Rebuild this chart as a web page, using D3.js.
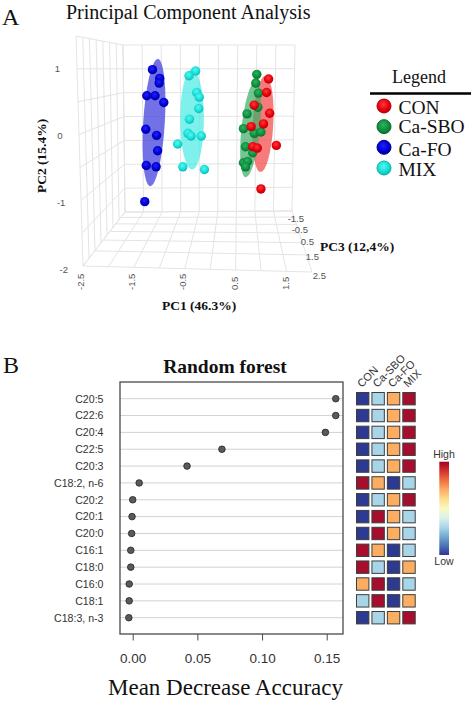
<!DOCTYPE html>
<html>
<head>
<meta charset="utf-8">
<script src="https://cdn.jsdelivr.net/npm/d3@7"></script>
<style>
  html, body { margin: 0; padding: 0; background: #fff; overflow: hidden; }
  svg { display: block; }
  .serif { font-family: "Liberation Serif", serif; fill: #111; }
  .sans { font-family: "Liberation Sans", sans-serif; }
</style>
</head>
<body>
<div id="chart"></div>
<script>
// ---- panel A data ----
const groups = ["CON", "Ca-SBO", "Ca-FO", "MIX"]
const pc1Con = [1.17, 1.13, 0.89, 1.19, 1.07, 0.83, 1.32, 0.86, 0.95, 1.02]
const pc2Con = [0.85, 0.65, 0.46, 0.34, 0.18, 0.14, -0.14, -0.16, -0.18, -0.79]
const pc1Sbo = [0.94, 0.92, 0.97, 0.96, 0.75, 0.68, 0.89, 1.02, 0.72, 0.86, 0.68, 0.76, 0.72]
const pc2Sbo = [0.92, 0.79, 0.64, 0.43, 0.33, 0.11, 0.04, 0.06, -0.16, -0.25, -0.40, -0.38, -0.46]
const pc1Fo = [-1.09, -0.95, -0.96, -1.20, -1.04, -0.87, -1.22, -1.01, -0.99, -1.21, -1.02, -1.24]
const pc2Fo = [0.99, 0.86, 0.79, 0.60, 0.60, 0.50, 0.10, 0.01, -0.22, -0.44, -0.46, -0.98]
const pc1Mix = [-0.25, -0.38, -0.23, -0.18, -0.19, -0.37, -0.40, -0.34, -0.14, -0.60, -0.50, -0.08]
const pc2Mix = [0.97, 0.90, 0.65, 0.58, 0.41, 0.25, 0.04, 0.00, 0.00, -0.12, -0.46, -0.50]

// confidence ellipses, same order as groups
const ellPc1 = [1.06, 0.82, -1.06, -0.32]
const ellPc2 = [0.18, 0.10, 0.20, 0.25]
const ellR1 = [0.20, 0.18, 0.21, 0.23]
const ellR2 = [0.72, 0.72, 0.95, 0.75]
const ellTilt = [3, 6, 3.5, 0]

const pc1Ticks = [-2.5, -1.5, -0.5, 0.5, 1.5]
const pc2Ticks = [1, 0, -1, -2]
const pc3Ticks = [-1.5, -0.5, 0.5, 1.5, 2.5]

// ---- panel B data ----
const fattyAcids = ["C20:5", "C22:6", "C20:4", "C22:5", "C20:3", "C18:2, n-6", "C20:2", "C20:1", "C20:0", "C16:1", "C18:0", "C16:0", "C18:1", "C18:3, n-3"]
const meanDecrease = [0.157, 0.157, 0.149, 0.069, 0.042, 0.005, 0, -0.0005, -0.0008, -0.0015, -0.0015, -0.0027, -0.0027, -0.003]
const accTicks = [0, 0.05, 0.10, 0.15]
// rank of each group per fatty acid, 1 low .. 4 high
const rankCon = [1, 1, 1, 1, 1, 3, 1, 1, 1, 3, 3, 4, 2, 1]
const rankSbo = [2, 2, 2, 2, 2, 4, 2, 3, 3, 4, 2, 3, 3, 2]
const rankFo = [4, 4, 4, 4, 4, 1, 4, 4, 4, 1, 1, 1, 1, 4]
const rankMix = [3, 3, 3, 3, 3, 2, 3, 2, 2, 2, 4, 2, 4, 3]

const svg = d3.select("#chart").append("svg")
  .attr("width", 474)
  .attr("height", 705)

const defs = svg.append("defs")

function label(text, x, y, size, cls, weight) {
  return svg.append("text")
    .attr("class", cls || "serif")
    .attr("x", x)
    .attr("y", y)
    .attr("font-size", size)
    .attr("font-weight", weight || "normal")
    .text(text)
}

// ---- A: the 3d box, each face is a bilinear map of its four corners ----
const x3 = d3.scaleLinear().domain([-2.5, 2.5]).range([80, 337])
const y3 = d3.scaleLinear().domain([1, -2]).range([69, 270])

function face(tl, tr, br, bl) {
  return (u, v) => {
    const topX = tl[0] + (tr[0] - tl[0]) * u, topY = tl[1] + (tr[1] - tl[1]) * u
    const botX = bl[0] + (br[0] - bl[0]) * u, botY = bl[1] + (br[1] - bl[1]) * u
    return [topX + (botX - topX) * v, topY + (botY - topY) * v]
  }
}

const backWall = face([123, 45], [295, 45], [292, 211], [125, 212])
const leftWall = face([76, 36], [123, 45], [125, 212], [83, 266])
const floor3 = face([125, 212], [292, 211], [312, 272], [83, 266])

const gridG = svg.append("g")
  .attr("fill", "none")
  .attr("stroke", "#e4e4e6")
  .attr("stroke-width", 1)

function gridLine(f, u0, v0, u1, v1) {
  gridG.append("line")
    .attr("x1", f(u0, v0)[0]).attr("y1", f(u0, v0)[1])
    .attr("x2", f(u1, v1)[0]).attr("y2", f(u1, v1)[1])
}

d3.range(0, 10).forEach(i => gridLine(backWall, i / 9, 0, i / 9, 1))
d3.range(0, 8).forEach(i => gridLine(backWall, 0, i / 7, 1, i / 7))
d3.range(0, 8).forEach(i => gridLine(leftWall, 0, i / 7, 1, i / 7))
d3.range(0, 8).forEach(i => gridLine(leftWall, i / 7, 0, i / 7, 1))
d3.range(0, 10).forEach(i => gridLine(floor3, i / 9, 0, i / 9, 1))
// floor lines bunch up towards the back wall
const floorRows = [0, 0.1, 0.22, 0.36, 0.52, 0.72, 1]
floorRows.forEach(v => gridLine(floor3, 0, v, 1, v))

// ellipses
const ellColor = ["#f24a4a", "#3fae68", "#3c3cdc", "#4cebe4"]
const ellOpacity = [0.72, 0.72, 0.72, 0.72]
groups.forEach((g, i) => {
  svg.append("ellipse")
    .attr("cx", x3(ellPc1[i]))
    .attr("cy", y3(ellPc2[i]))
    .attr("rx", x3(ellR1[i]) - x3(0))
    .attr("ry", y3(0) - y3(ellR2[i]))
    .attr("transform", `rotate(${ellTilt[i]} ${x3(ellPc1[i])} ${y3(ellPc2[i])})`)
    .attr("fill", ellColor[i])
    .attr("fill-opacity", ellOpacity[i])
})

// sphere shading for the points
const sphereColor = ["#e8000c", "#0e8f3e", "#0000d2", "#14e0d8"]
const sphereDark = ["#b00008", "#086b2c", "#00009c", "#0fb0aa"]
const sphereLight = ["#ff3a3a", "#2cb560", "#2222ff", "#5cf5ee"]
groups.forEach((g, i) => {
  const grad = defs.append("radialGradient")
    .attr("id", "sphere" + i)
    .attr("cx", "45%").attr("cy", "38%").attr("r", "65%")
  grad.append("stop").attr("offset", "0%").attr("stop-color", sphereLight[i])
  grad.append("stop").attr("offset", "60%").attr("stop-color", sphereColor[i])
  grad.append("stop").attr("offset", "100%").attr("stop-color", sphereDark[i])
})

function drawPoints(xs, ys, groupIdx) {
  svg.append("g").selectAll("circle")
    .data(xs)
    .join("circle")
    .attr("cx", d => x3(d))
    .attr("cy", (d, i) => y3(ys[i]))
    .attr("r", 4.7)
    .attr("fill", `url(#sphere${groupIdx})`)
}

drawPoints(pc1Mix, pc2Mix, 3)
drawPoints(pc1Fo, pc2Fo, 2)
drawPoints(pc1Sbo, pc2Sbo, 1)
drawPoints(pc1Con, pc2Con, 0)

// tick labels of the box
const tickColor = "#555"
pc1Ticks.forEach(t => {
  svg.append("text")
    .attr("class", "sans")
    .attr("transform", `translate(${x3(t) + 3.5},${290}) rotate(-90)`)
    .attr("font-size", 9.5)
    .attr("fill", tickColor)
    .text(t.toFixed(1))
})
const pc2LabelX = d3.scaleLinear().domain([1, -2]).range([60, 68])
pc2Ticks.forEach(t => {
  svg.append("text")
    .attr("class", "sans")
    .attr("x", pc2LabelX(t))
    .attr("y", y3(t) + 3)
    .attr("text-anchor", "end")
    .attr("font-size", 9.5)
    .attr("fill", tickColor)
    .text(t)
})
// depth ticks step away from the viewer along the right floor edge
const zX = d3.scaleLinear().domain(pc3Ticks).range([304, 308, 314, 319, 326])
const zY = d3.scaleLinear().domain(pc3Ticks).range([222, 233, 245, 260, 279])
pc3Ticks.forEach(t => {
  svg.append("text")
    .attr("class", "sans")
    .attr("x", zX(t))
    .attr("y", zY(t))
    .attr("text-anchor", "end")
    .attr("font-size", 9.5)
    .attr("fill", tickColor)
    .text(t.toFixed(1))
})

// A titles
label("A", 2, 25, 24)
label("Principal Component Analysis", 66, 19, 20)
label("PC1 (46.3%)", 162, 310, 13.5, "serif", "bold")
label("PC3 (12,4%)", 320, 251, 13.5, "serif", "bold")
svg.append("text")
  .attr("class", "serif")
  .attr("transform", "translate(46,193) rotate(-90)")
  .attr("font-size", 13.5)
  .attr("font-weight", "bold")
  .text("PC2 (15.4%)")

// legend
label("Legend", 392, 83, 18)
svg.append("line")
  .attr("x1", 370).attr("x2", 471)
  .attr("y1", 93.5).attr("y2", 93.5)
  .attr("stroke", "#000")
  .attr("stroke-width", 2.6)
const legendY = d3.scalePoint().domain(groups).range([106, 168])
const legendTextY = [114, 133, 156, 176]
groups.forEach((g, i) => {
  svg.append("circle")
    .attr("cx", 384)
    .attr("cy", legendY(g))
    .attr("r", 7)
    .attr("fill", `url(#sphere${i})`)
    .attr("stroke", sphereDark[i])
    .attr("stroke-width", 1)
  label(g, 398.5, legendTextY[i], 19.5)
})

// ---- B: dot plot ----
const PANEL = { LEFT: 120, RIGHT: 343, TOP: 382, BOTTOM: 634 }
const x = d3.scaleLinear().domain([0, 0.15]).range([132.7, 326.7])
const y = d3.scalePoint().domain(fattyAcids).range([398.7, 617.7])

label("B", 3, 373, 24)
label("Random forest", 225, 373, 19.5, "serif", "bold").attr("text-anchor", "middle")

svg.append("g").selectAll("line")
  .data(fattyAcids)
  .join("line")
  .attr("x1", PANEL.LEFT)
  .attr("x2", PANEL.RIGHT)
  .attr("y1", d => y(d))
  .attr("y2", d => y(d))
  .attr("stroke", "#d2d2d2")
  .attr("stroke-width", 1)

svg.append("rect")
  .attr("x", PANEL.LEFT)
  .attr("y", PANEL.TOP)
  .attr("width", PANEL.RIGHT - PANEL.LEFT)
  .attr("height", PANEL.BOTTOM - PANEL.TOP)
  .attr("fill", "none")
  .attr("stroke", "#4a4a4a")
  .attr("stroke-width", 1.3)

svg.append("g").selectAll("circle")
  .data(fattyAcids)
  .join("circle")
  .attr("cx", (d, i) => x(meanDecrease[i]))
  .attr("cy", d => y(d))
  .attr("r", 3.3)
  .attr("fill", "#5a5a5a")
  .attr("stroke", "#222")
  .attr("stroke-width", 0.8)

svg.append("g").selectAll("text")
  .data(fattyAcids)
  .join("text")
  .attr("class", "sans")
  .attr("x", 103.5)
  .attr("y", d => y(d) + 3.8)
  .attr("text-anchor", "end")
  .attr("font-size", 10.6)
  .attr("fill", "#333")
  .text(d => d)

const xAxis = d3.axisBottom(x)
  .tickValues(accTicks)
  .tickFormat(d3.format(".2f"))
  .tickSize(6.5)
  .tickPadding(13)
svg.append("g")
  .attr("transform", `translate(0,${PANEL.BOTTOM})`)
  .call(xAxis)
  .call(g => g.select(".domain").remove())
  .call(g => g.selectAll("line").attr("stroke", "#4a4a4a"))
  .call(g => g.selectAll("text")
    .attr("class", "sans")
    .attr("font-size", 13.5)
    .attr("fill", "#333"))

label("Mean Decrease Accuracy", 108, 695, 23)

// ---- B: heat map ----
const rankColor = d3.scaleOrdinal().domain([1, 2, 3, 4]).range(["#2c3a92", "#a8d6e8", "#a50f2d", "#fbae62"])
const cols = d3.scalePoint().domain(groups).range([362.7, 409])
const ranks = [rankCon, rankSbo, rankFo, rankMix]

groups.forEach((g, c) => {
  svg.append("g").selectAll("rect")
    .data(fattyAcids)
    .join("rect")
    .attr("x", cols(g) - 6.2)
    .attr("y", d => y(d) - 6.2)
    .attr("width", 12.4)
    .attr("height", 12.4)
    .attr("fill", (d, i) => rankColor(ranks[c][i]))
    .attr("stroke", "#3d3d3d")
    .attr("stroke-width", 1)
  svg.append("text")
    .attr("class", "sans")
    .attr("transform", `translate(${cols(g) - 1},${388}) rotate(-45)`)
    .attr("font-size", 11)
    .attr("fill", "#333")
    .text(g)
})

// colour key
const keyGrad = defs.append("linearGradient")
  .attr("id", "keyGrad")
  .attr("x1", 0).attr("y1", 1).attr("x2", 0).attr("y2", 0)
d3.range(0, 11).forEach(i => {
  keyGrad.append("stop")
    .attr("offset", (i * 10) + "%")
    .attr("stop-color", d3.interpolateRdYlBu(1 - i / 10))
})
svg.append("rect")
  .attr("x", 439.3)
  .attr("y", 461.7)
  .attr("width", 9.7)
  .attr("height", 93.3)
  .attr("fill", "url(#keyGrad)")
label("High", 444, 458, 10.5, "sans").attr("text-anchor", "middle").style("fill", "#333")
label("Low", 444, 564.5, 10.5, "sans").attr("text-anchor", "middle").style("fill", "#333")
</script>
</body>
</html>
